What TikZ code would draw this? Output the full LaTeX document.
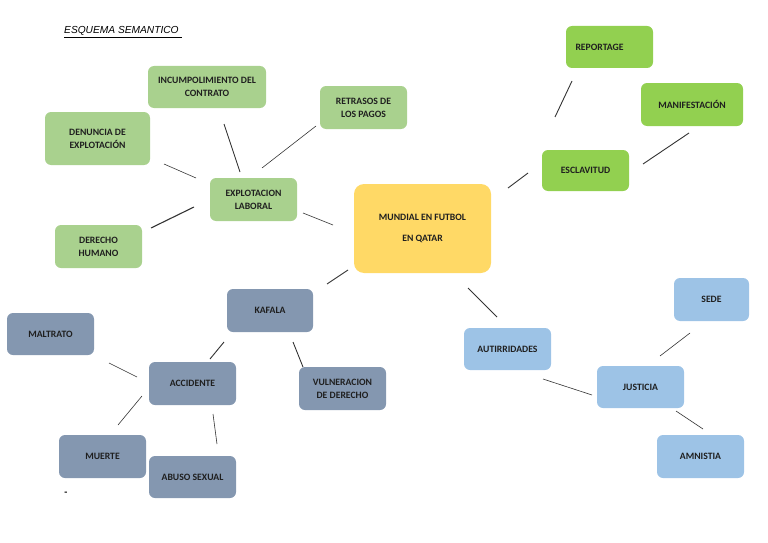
\documentclass[tikz,border=0pt]{standalone}
\usepackage{fontspec}
\setmainfont{Carlito}
\newfontfamily\arialfont{Liberation Sans}
\definecolor{lgreen}{HTML}{A9D18E}
\definecolor{bgreen}{HTML}{92D050}
\definecolor{myyellow}{HTML}{FFD966}
\definecolor{slate}{HTML}{8497B0}
\definecolor{lblue}{HTML}{9DC3E6}
\definecolor{txt}{HTML}{1F1F1F}
\tikzset{
  box/.style={rounded corners=6pt, inner sep=0pt, align=center, text=txt,
    font=\bfseries\fontsize{9.7}{13}\selectfont},
  lg/.style={box, fill=lgreen},
  bg/.style={box, fill=bgreen},
  yl/.style={box, fill=myyellow, font=\bfseries\fontsize{9.7}{21}\selectfont},
  sl/.style={box, fill=slate},
  lb/.style={box, fill=lblue},
  conn/.style={draw=black!80, line width=0.9pt},
}
\begin{document}
\begin{tikzpicture}[x=1pt,y=-1pt]
\useasboundingbox (0,0) rectangle (768,543);
\node[font=\arialfont\itshape\fontsize{10.2}{12}\selectfont, anchor=base west, inner sep=0pt] (title) at (64,34) {\underline{ESQUEMA SEMANTICO\ }};
% nodes
\node[lg, minimum width=118, minimum height=42] (incump) at (207,87) {INCUMPOLIMIENTO DEL\\CONTRATO};
\node[lg, minimum width=87, minimum height=43] (retrasos) at (363.5,107.5) {RETRASOS DE\\LOS PAGOS};
\node[lg, minimum width=105, minimum height=53] (denuncia) at (97.5,138.5) {DENUNCIA DE\\EXPLOTACIÓN};
\node[lg, minimum width=87, minimum height=43] (explot) at (253.5,199.5) {EXPLOTACION\\LABORAL};
\node[lg, minimum width=87, minimum height=43] (derecho) at (98.5,246.5) {DERECHO\\HUMANO};
\node[yl, minimum width=137, minimum height=89, rounded corners=10pt] (mundial) at (422.5,228.5) {MUNDIAL EN FUTBOL\\EN QATAR};
\node[bg, minimum width=87, minimum height=42] (reportage) at (609.5,47) {REPORTAGE\hspace{20pt}};
\node[bg, minimum width=102, minimum height=43] (manif) at (692,104.5) {MANIFESTACIÓN};
\node[bg, minimum width=87, minimum height=41] (esclav) at (585.5,170.5) {ESCLAVITUD};
\node[sl, minimum width=86, minimum height=43] (kafala) at (270,310.5) {KAFALA};
\node[sl, minimum width=87, minimum height=42] (maltrato) at (50.5,334) {MALTRATO};
\node[sl, minimum width=87, minimum height=43] (accidente) at (192.5,383.5) {ACCIDENTE};
\node[sl, minimum width=87, minimum height=43] (vuln) at (342.5,388.5) {VULNERACION\\DE DERECHO};
\node[sl, minimum width=87, minimum height=43] (muerte) at (102.5,456.5) {MUERTE};
\node[sl, minimum width=87, minimum height=42] (abuso) at (192.5,477) {ABUSO SEXUAL};
\node[lb, minimum width=75, minimum height=43] (sede) at (711.5,299.5) {SEDE};
\node[lb, minimum width=87, minimum height=42] (autir) at (507.5,349) {AUTIRRIDADES};
\node[lb, minimum width=87, minimum height=42] (justicia) at (640.5,387) {JUSTICIA};
\node[lb, minimum width=87, minimum height=43] (amnistia) at (700.5,456.5) {AMNISTIA};
\node[font=\bfseries\fontsize{10}{10}\selectfont, inner sep=0pt] (dash) at (66,494) {-};
% connector end points
\coordinate (incA) at (224,124); \coordinate (incB) at (240,172);
\coordinate (retA) at (316,126); \coordinate (retB) at (262,168);
\coordinate (denA) at (164,164); \coordinate (denB) at (196,178);
\coordinate (derA) at (151,228); \coordinate (derB) at (194,207);
\coordinate (expA) at (303,213); \coordinate (expB) at (333,225);
\coordinate (kafA) at (348,270); \coordinate (kafB) at (327,284);
\coordinate (repA) at (572,81);  \coordinate (repB) at (555,117);
\coordinate (manA) at (689,133); \coordinate (manB) at (643,164);
\coordinate (escA) at (528,173); \coordinate (escB) at (508,188);
\coordinate (accA) at (224,342); \coordinate (accB) at (210,359);
\coordinate (vulA) at (293,342); \coordinate (vulB) at (303,367);
\coordinate (malA) at (109,363); \coordinate (malB) at (137,377);
\coordinate (mueA) at (142,396); \coordinate (mueB) at (118,425);
\coordinate (abuA) at (213,414); \coordinate (abuB) at (217,444);
\coordinate (autA) at (468,288); \coordinate (autB) at (497,317);
\coordinate (sedA) at (690,333); \coordinate (sedB) at (660,356);
\coordinate (jusA) at (543,379); \coordinate (jusB) at (592,395);
\coordinate (amnA) at (676,411); \coordinate (amnB) at (703,429);
% connectors
\draw[conn] (incA) -- (incB);
\draw[conn, line width=0.6pt] (retA) -- (retB);
\draw[conn, line width=0.6pt] (denA) -- (denB);
\draw[conn, line width=1.1pt] (derA) -- (derB);
\draw[conn, line width=0.6pt] (expA) -- (expB);
\draw[conn] (kafA) -- (kafB);
\draw[conn] (repA) -- (repB);
\draw[conn] (manA) -- (manB);
\draw[conn] (escA) -- (escB);
\draw[conn] (accA) -- (accB);
\draw[conn] (vulA) -- (vulB);
\draw[conn, line width=0.6pt] (malA) -- (malB);
\draw[conn, line width=0.6pt] (mueA) -- (mueB);
\draw[conn, line width=0.6pt] (abuA) -- (abuB);
\draw[conn] (autA) -- (autB);
\draw[conn, line width=0.6pt] (sedA) -- (sedB);
\draw[conn, line width=0.6pt] (jusA) -- (jusB);
\draw[conn, line width=0.6pt] (amnA) -- (amnB);
\end{tikzpicture}
\end{document}
